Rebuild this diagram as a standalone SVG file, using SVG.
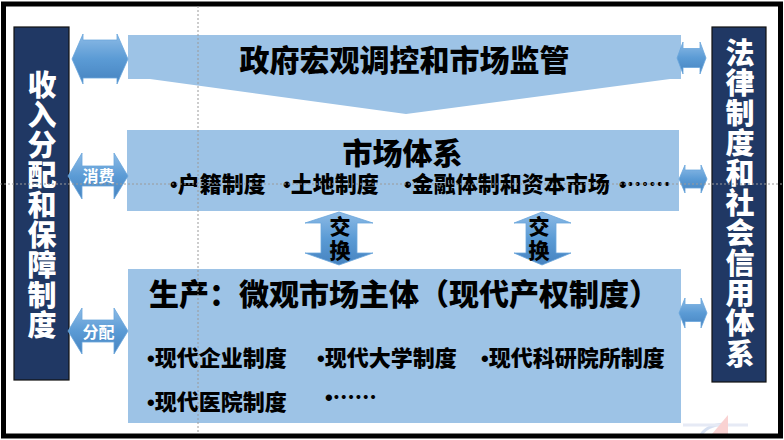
<svg xmlns="http://www.w3.org/2000/svg" width="784" height="440" viewBox="0 0 784 440">
  <style>
    .cjk { font-family: "Noto Sans CJK SC", "Noto Sans", sans-serif; font-weight: 900; }
    .b { font-family: "Liberation Sans", sans-serif; font-weight: bold; }
    .panel { fill: #9DC3E6; }
    .navy { fill: #203864; stroke: #111; stroke-width: 1.2; }
    .vt { fill: #fff; font-size: 29px; writing-mode: vertical-rl; letter-spacing: 1.1px; }
    .title { fill: #000; font-size: 30px; }
    .item { fill: #000; font-size: 22px; }
    .arr { fill: url(#ag); stroke: #6aa6dc; stroke-width: 0.8; }
    .albl { fill: #fff; font-size: 16px; text-anchor: middle; font-weight: bold; }
    .xlbl { fill: #000; font-size: 21px; writing-mode: vertical-rl; letter-spacing: 3px; }
    .guide { stroke: #9a9a9a; stroke-width: 1; stroke-dasharray: 2 2; fill: none; }
  </style>
  <defs>
    <linearGradient id="ag" x1="0" y1="0" x2="0" y2="1">
      <stop offset="0" stop-color="#8dbbe6"/>
      <stop offset="0.5" stop-color="#5b9bd5"/>
      <stop offset="1" stop-color="#4683c0"/>
    </linearGradient>
  </defs>

  <rect x="0" y="0" width="784" height="440" fill="#fff"/>

  <!-- faint watermark -->
  <g opacity="0.35">
    <path d="M700 437 Q 705 425 725 424" fill="none" stroke="#8aa6d8" stroke-width="3"/>
    <line x1="683" y1="425" x2="748" y2="425" stroke="#b8c4e4" stroke-width="3"/>
    <polygon points="712,434 728,415 728,434" fill="#f08080"/>
  </g>

  <!-- outer frame -->
  <rect x="3.5" y="4" width="777" height="432" fill="none" stroke="#000" stroke-width="5"/>

  <!-- left node -->
  <g id="left-income">
    <rect class="navy" x="14" y="27" width="55" height="353"/>
    <text class="cjk vt" x="42" y="70">收入分配和保障制度</text>
  </g>

  <!-- right node -->
  <g id="right-law">
    <rect class="navy" x="712" y="27" width="54" height="355"/>
    <text class="cjk vt" x="740" y="38">法律制度和社会信用体系</text>
  </g>

  <!-- government banner -->
  <g id="government">
    <polygon class="panel" points="128,35 681,35 681,79 670,79 406,114 150,79 128,79"/>
    <text class="cjk title" x="404.5" y="71" text-anchor="middle">政府宏观调控和市场监管</text>
  </g>

  <!-- market system -->
  <g id="market">
    <rect class="panel" x="127" y="130" width="552" height="81"/>
    <text class="cjk title" x="402.5" y="164" text-anchor="middle">市场体系</text>
    <text class="cjk item" x="170" y="192"><tspan class="b">•</tspan>户籍制度</text>
    <text class="cjk item" x="283" y="192"><tspan class="b">•</tspan>土地制度</text>
    <text class="cjk item" x="404" y="192"><tspan class="b">•</tspan>金融体制和资本市场</text>
    <text class="cjk item" x="619" y="192"><tspan class="b">•</tspan>……</text>
  </g>

  <!-- production -->
  <g id="production">
    <rect class="panel" x="128" y="269" width="553" height="154"/>
    <text class="cjk title" x="149" y="305">生产：微观市场主体（现代产权制度）</text>
    <text class="cjk item" x="147" y="366"><tspan class="b">•</tspan>现代企业制度</text>
    <text class="cjk item" x="317" y="366"><tspan class="b">•</tspan>现代大学制度</text>
    <text class="cjk item" x="481" y="366"><tspan class="b">•</tspan>现代科研院所制度</text>
    <text class="cjk item" x="147" y="410"><tspan class="b">•</tspan>现代医院制度</text>
    <text class="cjk item" x="325" y="405"><tspan class="b">•</tspan>……</text>
  </g>

  <!-- connectors -->
  <g id="connectors">
    <polygon class="arr" points="72,59 83,34 83,40 117,40 117,34 128,59 117,84 117,78 83,78 83,84"/>
    <polygon class="arr" points="68,176 82,153 82,166 114,166 114,153 128,176 114,199 114,186 82,186 82,199"/>
    <text class="cjk albl" x="98.5" y="182">消费</text>
    <polygon class="arr" points="68,331 82,308 82,320 114,320 114,308 128,331 114,354 114,342 82,342 82,354"/>
    <text class="cjk albl" x="98.5" y="338">分配</text>

    <polygon class="arr" points="677,58 683,42 683,48.5 700,48.5 700,42 706,58 700,74 700,67.5 683,67.5 683,74"/>
    <polygon class="arr" points="679,179 685,165 685,170 701,170 701,165 707,179 701,193 701,188 685,188 685,193"/>
    <polygon class="arr" points="679,313 685,298 685,304.5 701,304.5 701,298 707,313 701,328 701,321.5 685,321.5 685,328"/>

    <polygon class="arr" points="339,212 373,223 357,223 357,253 373,253 339,265 305,253 321,253 321,223 305,223"/>
    <text class="cjk xlbl" x="340" y="216">交换</text>
    <polygon class="arr" points="542,212 571,223 556,223 556,253 571,253 542,265 514,253 526,253 526,223 514,223"/>
    <text class="cjk xlbl" x="539" y="216">交换</text>
  </g>

  <!-- guides -->
  <line class="guide" x1="198" y1="6" x2="198" y2="433"/>
  <line class="guide" x1="0" y1="184" x2="784" y2="184"/>
</svg>
